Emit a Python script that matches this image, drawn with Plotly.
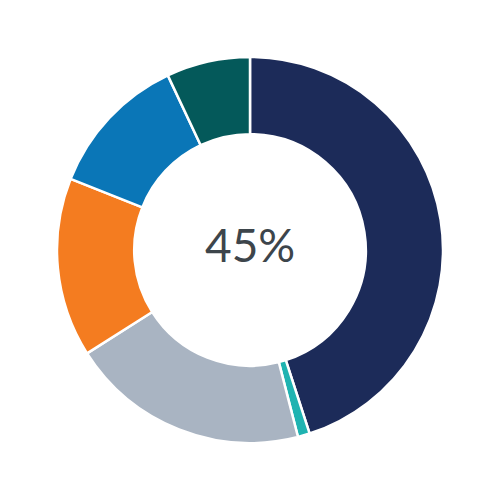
import plotly.graph_objects as go

labels = ["A", "B", "C", "D", "E", "F"]
values = [45, 1, 20, 15, 12, 7]
colors = ["#1c2b59", "#1fb3b1", "#a9b4c2", "#f47c20", "#0a76b7", "#04595a"]
center_text = "45%"

fig = go.Figure(go.Pie(
    labels=labels, values=values, hole=0.6, sort=False,
    direction="clockwise", rotation=0,
    marker=dict(colors=colors, line=dict(color="white", width=2.5)),
    textinfo="none", hoverinfo="label+value",
))
fig.update_layout(
    width=500, height=500, showlegend=False,
    margin=dict(l=49, r=65, t=49, b=65),
    paper_bgcolor="white", plot_bgcolor="white",
    annotations=[dict(text=center_text, x=0.5, y=0.5, xref="paper", yref="paper",
                      yshift=6, showarrow=False,
                      font=dict(family="Lato", size=46, color="#3d454b"))],
)
fig.write_html("out.html")
